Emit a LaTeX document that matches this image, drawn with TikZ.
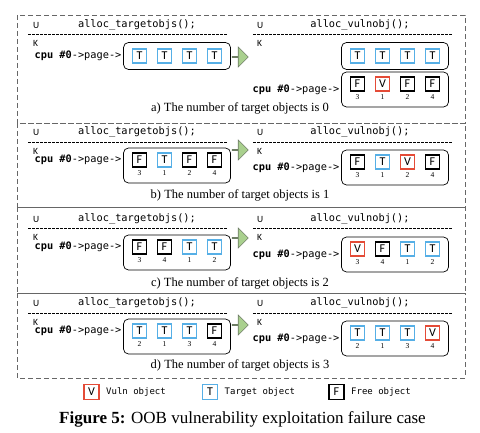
\documentclass[tikz,border=0pt]{standalone}
\usepackage{fontspec}
\setmainfont{Liberation Serif}
\setmonofont{DejaVu Sans Mono}
\newfontfamily\calfont{Carlito}
\usepackage{tikz}
\usetikzlibrary{positioning, fit, shapes.arrows}
\definecolor{tblue}{RGB}{86,175,230}
\definecolor{vred}{RGB}{228,75,55}
\definecolor{agreen}{RGB}{169,208,142}
\definecolor{agray}{RGB}{110,125,100}
\tikzset{
  obj/.style={rectangle, line width=1.6pt, minimum size=14pt, inner sep=0pt,
    outer sep=0pt, fill=white, font=\calfont\fontsize{12}{12}\selectfont},
  tobj/.style={obj, draw=tblue},
  vobj/.style={obj, draw=vred},
  fobj/.style={obj, draw=black},
  num/.style={font=\fontsize{7.5}{8}\selectfont, inner sep=1pt, label distance=2.5pt},
  page/.style={rectangle, rounded corners=5pt, draw=black, line width=0.7pt,
    inner xsep=9pt, inner ysep=5pt},
  code/.style={font=\ttfamily\fontsize{10.3}{12}\selectfont, inner sep=0pt},
  ukl/.style={font=\calfont\fontsize{9.5}{10}\selectfont, anchor=west, inner sep=0pt},
  ukline/.style={dash pattern=on 2.5pt off 1.5pt, line width=0.7pt},
  panel/.style={draw=gray!80!black, dash pattern=on 5pt off 3pt, line width=0.8pt},
  caption/.style={font=\fontsize{12.5}{14}\selectfont},
  nextstep/.style={single arrow, draw=agray, fill=agreen, line width=0.6pt,
    minimum height=16pt, minimum width=20pt, single arrow head extend=6pt,
    inner sep=0pt},
  legtext/.style={font=\ttfamily\fontsize{9}{10}\selectfont, inner sep=0pt, right=7pt of #1}
}

\begin{document}
\begin{tikzpicture}[x=1pt, y=-1pt, node distance=11pt]
\useasboundingbox (0,0) rectangle (480,433);

% panel frames
\draw [panel] (17,15)  rectangle (465,123);
\draw [panel] (17,123) rectangle (465,207);
\draw [panel] (17,207) rectangle (465,293);
\draw [panel] (17,293) rectangle (465,378);

% ---- a) 0 target objects
\node (uA)  [ukl] at (33,25)  {U};
\node (kA)  [ukl] at (33,43)  {K};
\node (fnA) [code] at (137,25) {alloc\_targetobjs();};
\draw [ukline] (28,34) -- (228,34);
\node (a1) [tobj] at (139.5,56) {T};
\node (a2) [tobj, right=of a1] {T};
\node (a3) [tobj, right=of a2] {T};
\node (a4) [tobj, right=of a3] {T};
\node (pgA) [page, inner ysep=6.5pt, fit=(a1)(a4)] {};
\node (cpuA) [code, left=1.5pt of pgA] {\textbf{cpu \#0}->page->};
\node (stepA) [nextstep] at (240,57) {};

\node (uA')  [ukl] at (257,25) {U};
\node (kA')  [ukl] at (257,43) {K};
\node (fnA') [code] at (360,25) {alloc\_vulnobj();};
\draw [ukline] (253,34) -- (452,34);
\node (ra1) [tobj] at (357.5,56) {T};
\node (ra2) [tobj, right=of ra1] {T};
\node (ra3) [tobj, right=of ra2] {T};
\node (ra4) [tobj, right=of ra3] {T};
\node (pgAu) [page, inner ysep=6.5pt, fit=(ra1)(ra4)] {};
\node (sa1) [fobj, label={[num]below:3}] at (357.5,84) {F};
\node (sa2) [vobj, right=of sa1, label={[num]below:1}] {V};
\node (sa3) [fobj, right=of sa2, label={[num]below:2}] {F};
\node (sa4) [fobj, right=of sa3, label={[num]below:4}] {F};
\node (pgA') [page, fit={(sa1)(sa4)([yshift=-11pt]sa4.south)}] {};
\node (cpuA') [code, left=1.5pt of pgA'] {\textbf{cpu \#0}->page->};
\node (capA) [caption] at (240,108) {a) The number of target objects is 0};

% ---- b) 1 target object
\node (uB)  [ukl] at (33,132)  {U};
\node (kB)  [ukl] at (33,151)  {K};
\node (fnB) [code] at (137,132) {alloc\_targetobjs();};
\draw [ukline] (28,142) -- (228,142);
\node (b1) [fobj, label={[num]below:3}] at (139.5,160) {F};
\node (b2) [tobj, right=of b1, label={[num]below:1}] {T};
\node (b3) [fobj, right=of b2, label={[num]below:2}] {F};
\node (b4) [fobj, right=of b3, label={[num]below:4}] {F};
\node (pgB) [page, fit={(b1)(b4)([yshift=-11pt]b4.south)}] {};
\node (cpuB) [code, anchor=east, xshift=-1.5pt] at (pgB.west |- b1) {\textbf{cpu \#0}->page->};
\node (stepB) [nextstep] at (240,150) {};

\node (uB')  [ukl] at (257,132) {U};
\node (kB')  [ukl] at (257,151) {K};
\node (fnB') [code] at (360,132) {alloc\_vulnobj();};
\draw [ukline] (253,142) -- (452,142);
\node (rb1) [fobj, label={[num]below:3}] at (357.5,162) {F};
\node (rb2) [tobj, right=of rb1, label={[num]below:1}] {T};
\node (rb3) [vobj, right=of rb2, label={[num]below:2}] {V};
\node (rb4) [fobj, right=of rb3, label={[num]below:4}] {F};
\node (pgB') [page, fit={(rb1)(rb4)([yshift=-11pt]rb4.south)}] {};
\node (cpuB') [code, left=1.5pt of pgB'] {\textbf{cpu \#0}->page->};
\node (capB) [caption] at (240,195) {b) The number of target objects is 1};

% ---- c) 2 target objects
\node (uC)  [ukl] at (33,219)  {U};
\node (kC)  [ukl] at (33,237)  {K};
\node (fnC) [code] at (137,219) {alloc\_targetobjs();};
\draw [ukline] (28,228) -- (228,228);
\node (c1) [fobj, label={[num]below:3}] at (139.5,247) {F};
\node (c2) [fobj, right=of c1, label={[num]below:4}] {F};
\node (c3) [tobj, right=of c2, label={[num]below:1}] {T};
\node (c4) [tobj, right=of c3, label={[num]below:2}] {T};
\node (pgC) [page, fit={(c1)(c4)([yshift=-11pt]c4.south)}] {};
\node (cpuC) [code, anchor=east, xshift=-1.5pt] at (pgC.west |- c1) {\textbf{cpu \#0}->page->};
\node (stepC) [nextstep] at (240,238) {};

\node (uC')  [ukl] at (257,219) {U};
\node (kC')  [ukl] at (257,237) {K};
\node (fnC') [code] at (360,219) {alloc\_vulnobj();};
\draw [ukline] (253,228) -- (452,228);
\node (rc1) [vobj, label={[num]below:3}] at (357.5,249) {V};
\node (rc2) [fobj, right=of rc1, label={[num]below:4}] {F};
\node (rc3) [tobj, right=of rc2, label={[num]below:1}] {T};
\node (rc4) [tobj, right=of rc3, label={[num]below:2}] {T};
\node (pgC') [page, fit={(rc1)(rc4)([yshift=-11pt]rc4.south)}] {};
\node (cpuC') [code, left=1.5pt of pgC'] {\textbf{cpu \#0}->page->};
\node (capC) [caption] at (240,283) {c) The number of target objects is 2};

% ---- d) 3 target objects
\node (uD)  [ukl] at (33,303)  {U};
\node (kD)  [ukl] at (33,322)  {K};
\node (fnD) [code] at (137,303) {alloc\_targetobjs();};
\draw [ukline] (28,313) -- (228,313);
\node (d1) [tobj, label={[num]below:2}] at (139.5,331) {T};
\node (d2) [tobj, right=of d1, label={[num]below:1}] {T};
\node (d3) [tobj, right=of d2, label={[num]below:3}] {T};
\node (d4) [fobj, right=of d3, label={[num]below:4}] {F};
\node (pgD) [page, fit={(d1)(d4)([yshift=-11pt]d4.south)}] {};
\node (cpuD) [code, anchor=east, xshift=-1.5pt] at (pgD.west |- d1) {\textbf{cpu \#0}->page->};
\node (stepD) [nextstep] at (240,325) {};

\node (uD')  [ukl] at (257,303) {U};
\node (kD')  [ukl] at (257,322) {K};
\node (fnD') [code] at (360,303) {alloc\_vulnobj();};
\draw [ukline] (253,313) -- (452,313);
\node (rd1) [tobj, label={[num]below:2}] at (357.5,333) {T};
\node (rd2) [tobj, right=of rd1, label={[num]below:1}] {T};
\node (rd3) [tobj, right=of rd2, label={[num]below:3}] {T};
\node (rd4) [vobj, right=of rd3, label={[num]below:4}] {V};
\node (pgD') [page, fit={(rd1)(rd4)([yshift=-11pt]rd4.south)}] {};
\node (cpuD') [code, left=1.5pt of pgD'] {\textbf{cpu \#0}->page->};
\node (capD) [caption] at (240,365) {d) The number of target objects is 3};

% legend
\node (lgV) [vobj, minimum size=15pt] at (91.5,392) {V};
\node (lgVt) [legtext=lgV] {Vuln object};
\node (lgT) [tobj, minimum size=15pt] at (210,392) {T};
\node (lgTt) [legtext=lgT] {Target object};
\node (lgF) [fobj, minimum size=15pt] at (336.5,392) {F};
\node (lgFt) [legtext=lgF] {Free object};

\node (fig) [font=\fontsize{17}{19}\selectfont] at (242.5,419)
  {\textbf{Figure 5:} OOB vulnerability exploitation failure case};
\end{tikzpicture}
\end{document}
